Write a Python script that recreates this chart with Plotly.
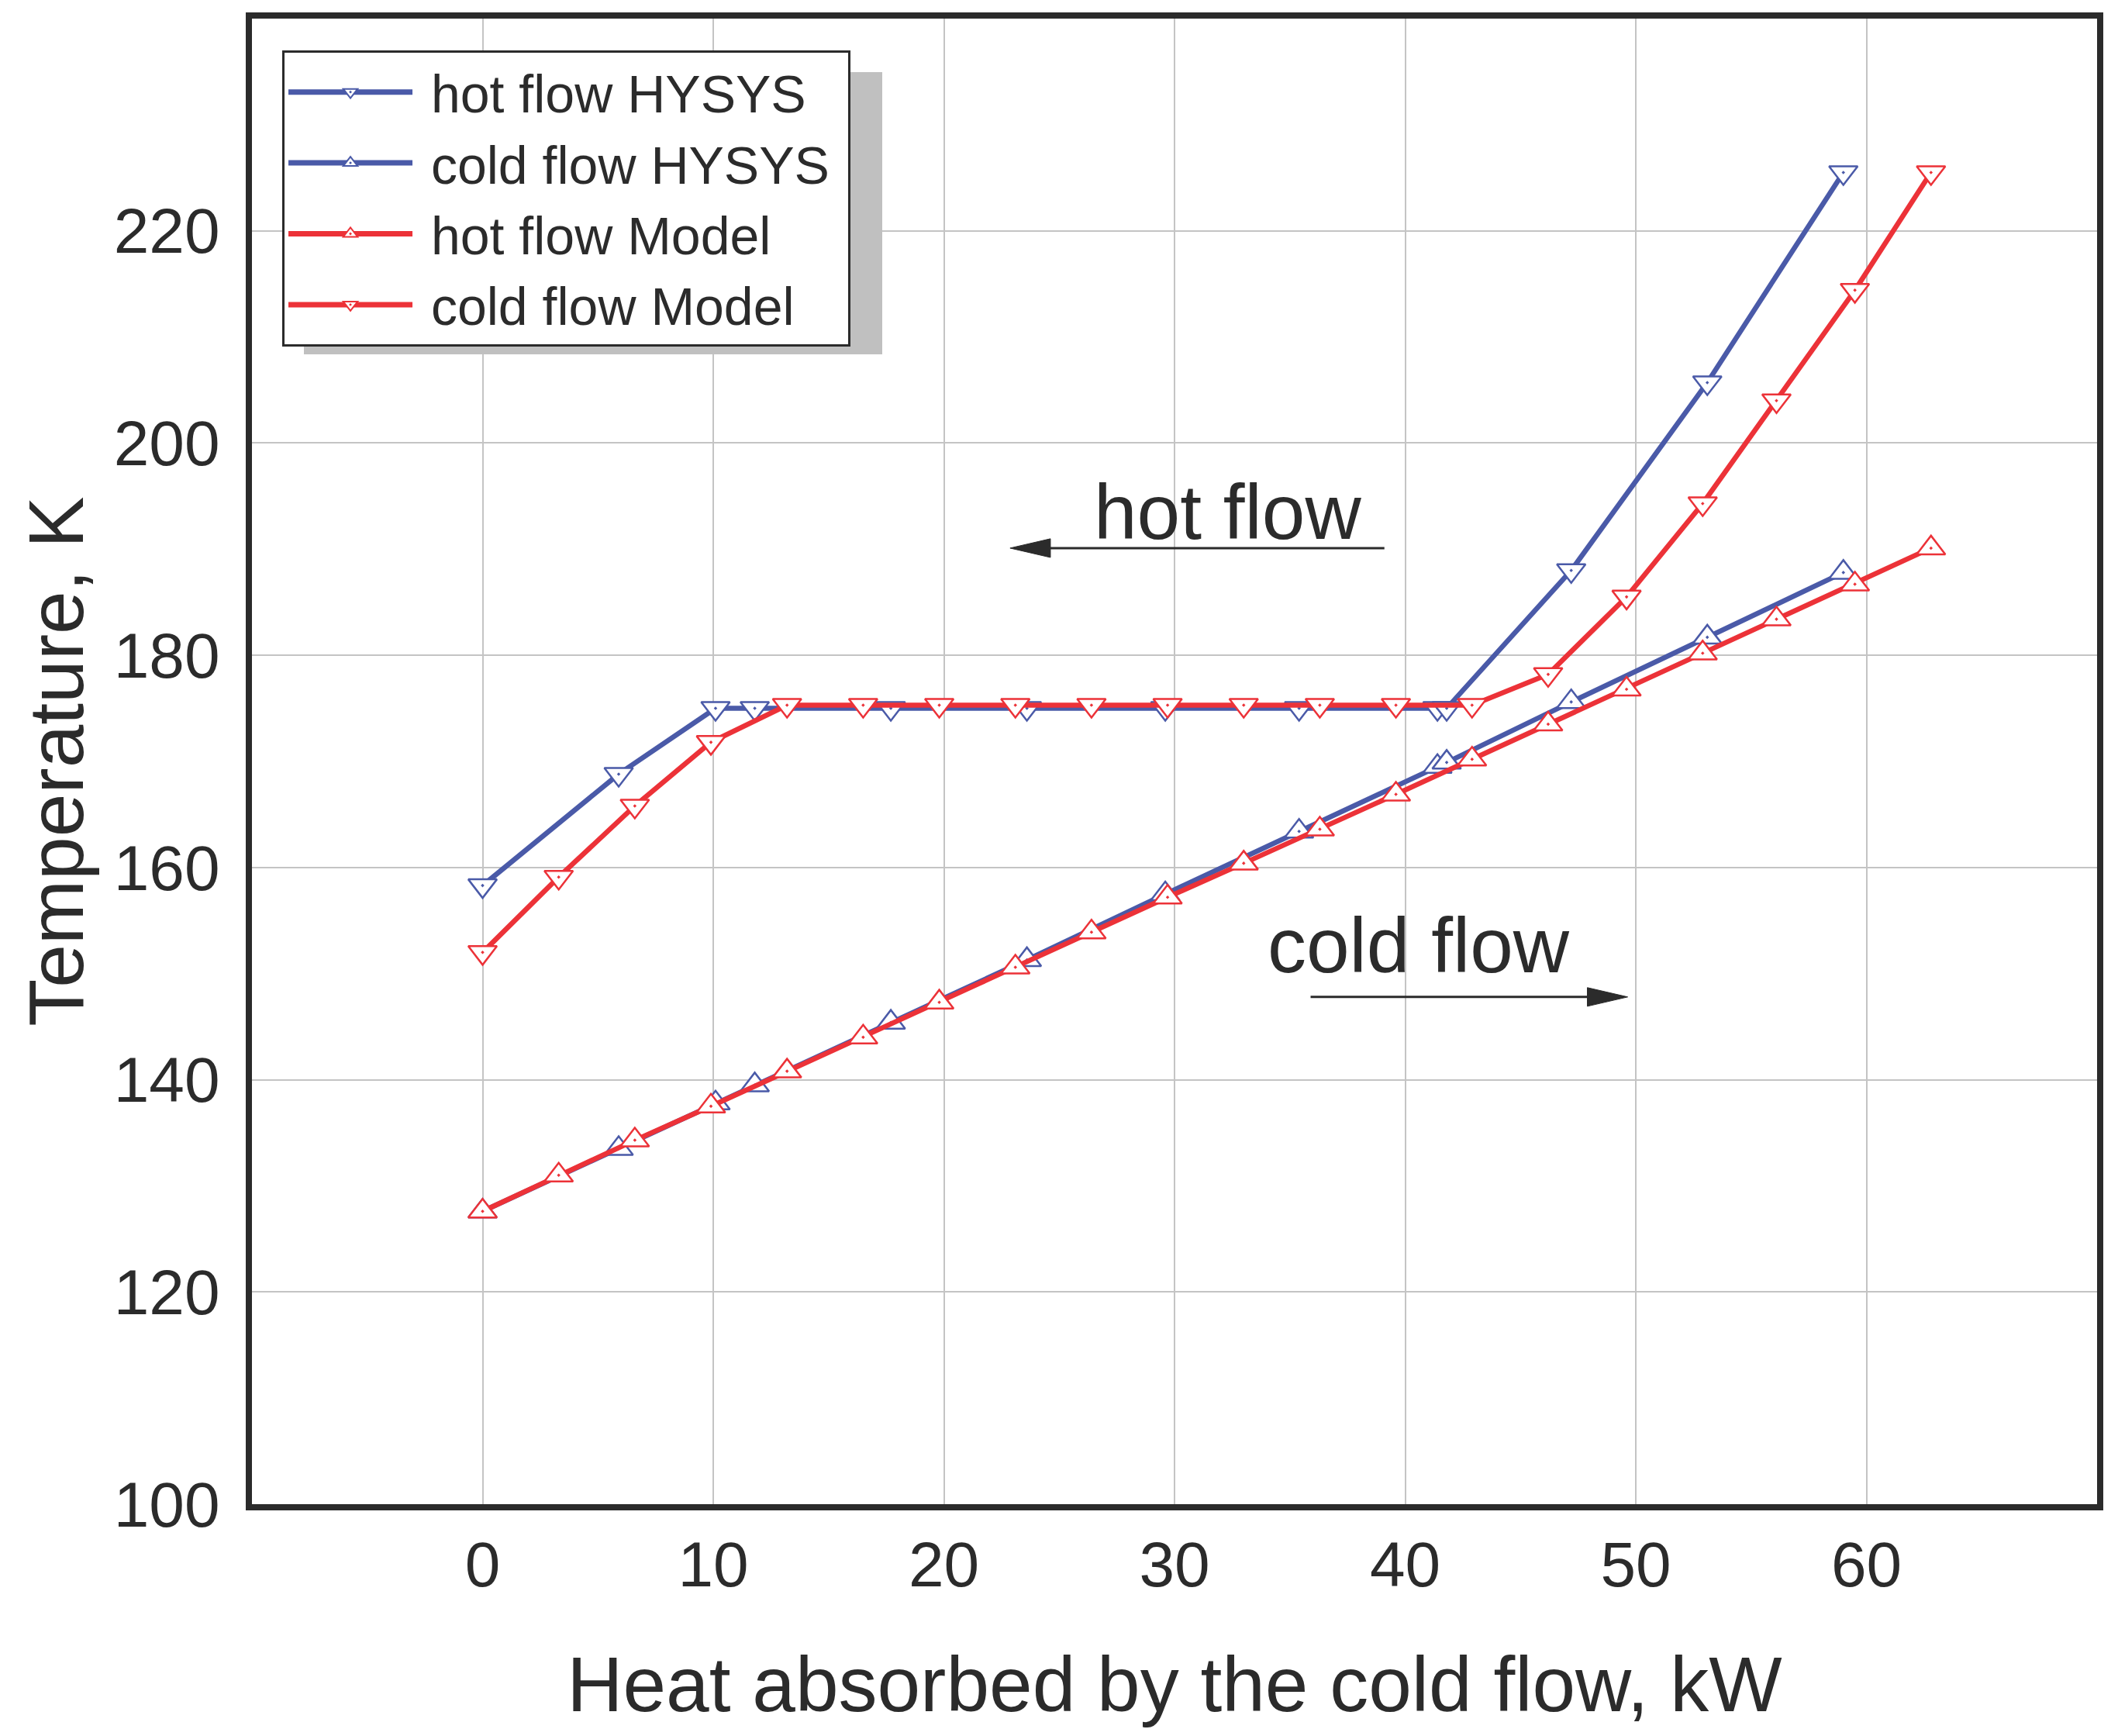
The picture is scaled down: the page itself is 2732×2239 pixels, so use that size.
import plotly.graph_objects as go

# ---- data ----
hysys_q = [0, 5.9, 10.1, 11.8, 17.7, 23.6, 29.6, 35.4, 41.4, 41.8, 47.2, 53.1, 59.0]
hysys_hot = [158.3, 168.8, 175.0, 175.0, 175.0, 175.0, 175.0, 175.0, 175.0, 175.0, 188.0, 205.7, 225.5]
hysys_cold = [127.6, 133.5, 137.8, 139.5, 145.4, 151.3, 157.5, 163.4, 169.5, 169.9, 175.6, 181.7, 187.8]

model_q = [0, 3.3, 6.6, 9.9, 13.2, 16.5, 19.8, 23.1, 26.4, 29.7, 33.0, 36.3, 39.6,
           42.9, 46.2, 49.6, 52.9, 56.1, 59.5, 62.8]
model_hot = [152.0, 159.1, 165.8, 171.8, 175.3, 175.3, 175.3, 175.3, 175.3, 175.3, 175.3,
             175.3, 175.3, 175.3, 178.2, 185.5, 194.3, 204.0, 214.4, 225.5]
model_cold = [127.6, 131.0, 134.3, 137.5, 140.8, 144.0, 147.3, 150.6, 153.9, 157.2, 160.4,
              163.6, 166.9, 170.2, 173.5, 176.8, 180.2, 183.4, 186.7, 190.1]

x_ticks = [0, 10, 20, 30, 40, 50, 60]
y_ticks = [100, 120, 140, 160, 180, 200, 220]

legend_names = ["hot flow HYSYS", "cold flow HYSYS", "hot flow Model", "cold flow Model"]
legend_symbols = ["triangle-down-dot", "triangle-up-dot", "triangle-up-dot", "triangle-down-dot"]

BLUE = "#4a5aa8"
RED = "#ec3238"
INK = "#2b2b2b"
FONT = "Liberation Sans, Arial, sans-serif"

series = [
    (hysys_q, hysys_hot, BLUE, "triangle-down-dot"),
    (hysys_q, hysys_cold, BLUE, "triangle-up-dot"),
    (model_q, model_hot, RED, "triangle-down-dot"),
    (model_q, model_cold, RED, "triangle-up-dot"),
]

fig = go.Figure()
for xs, ys, col, sym in series:
    fig.add_trace(go.Scatter(
        x=xs, y=ys, mode="lines+markers", showlegend=False,
        line=dict(color=col, width=6.5),
        marker=dict(symbol=sym, size=32, color="white", line=dict(color=col, width=2.5)),
    ))

legend_colors = [BLUE, BLUE, RED, RED]
for name, sym, col in zip(legend_names, legend_symbols, legend_colors):
    fig.add_trace(go.Scatter(
        x=[None], y=[None], mode="lines+markers", name="\u00a0" + name + "\u00a0",
        line=dict(color=col, width=7),
        marker=dict(symbol=sym, size=16, color="white", line=dict(color=col, width=2)),
    ))

# arrows
fig.add_shape(type="line", xref="x", yref="y", x0=24.6, y0=190.1, x1=39.1, y1=190.1,
              line=dict(color=INK, width=3))
fig.add_shape(type="path", xref="x", yref="y",
              path="M22.87,190.1 L24.62,190.98 L24.62,189.22 Z",
              fillcolor=INK, line=dict(color=INK, width=1))
fig.add_shape(type="line", xref="x", yref="y", x0=35.9, y0=147.8, x1=47.9, y1=147.8,
              line=dict(color=INK, width=3))
fig.add_shape(type="path", xref="x", yref="y",
              path="M49.65,147.8 L47.9,148.68 L47.9,146.92 Z",
              fillcolor=INK, line=dict(color=INK, width=1))

# legend shadow
fig.add_shape(type="rect", xref="paper", yref="paper",
              x0=0.02815, x1=0.3416, y0=0.774, y1=0.964,
              fillcolor="#c0c0c0", line=dict(width=0), layer="above")

fig.add_annotation(x=32.3, y=193.5, xref="x", yref="y", text="hot flow", showarrow=False,
                   font=dict(size=100, color=INK, family=FONT))
fig.add_annotation(x=40.6, y=152.7, xref="x", yref="y", text="cold flow", showarrow=False,
                   font=dict(size=100, color=INK, family=FONT))

axis_common = dict(
    showgrid=True, gridcolor="#c4c4c4", gridwidth=2,
    showline=True, linecolor=INK, linewidth=8, mirror=True,
    ticks="", zeroline=False, automargin=False,
    tickfont=dict(size=82, color=INK, family=FONT),
)

fig.update_layout(
    width=2732, height=2239,
    margin=dict(l=325, r=27, t=24, b=299),
    paper_bgcolor="white", plot_bgcolor="white",
    font=dict(family=FONT, color=INK),
    xaxis=dict(range=[-10, 70], tickvals=x_ticks,
               title=dict(text="Heat absorbed by the cold flow, kW",
                          font=dict(size=100, color=INK, family=FONT), standoff=78),
               **axis_common),
    yaxis=dict(range=[100, 240], tickvals=y_ticks, ticklabelstandoff=17,
               title=dict(text="Temperature, K",
                          font=dict(size=100, color=INK, family=FONT), standoff=9),
               **axis_common),
    legend=dict(x=0.0164, y=0.9786, xanchor="left", yanchor="top",
                bgcolor="white", bordercolor=INK, borderwidth=3,
                font=dict(size=68, color=INK, family=FONT),
                itemwidth=160, tracegroupgap=0),
)

fig.write_html("out.html")
